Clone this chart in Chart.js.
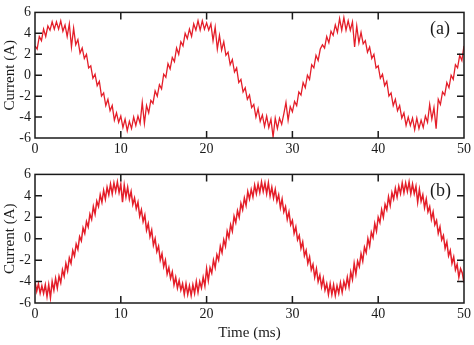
<!DOCTYPE html>
<html>
<head>
<meta charset="utf-8">
<script src="https://cdn.jsdelivr.net/npm/chart.js@4.4.1/dist/chart.umd.min.js"></script>
<style>
  body { margin: 0; background: #fff; }
  canvas { position: absolute; left: 0; }
</style>
</head>
<body>
<canvas id="chartA" width="474" height="162" style="top:0"></canvas>
<canvas id="chartB" width="474" height="183" style="top:162px"></canvas>
<script>
// sample spacing in ms for each trace
const stepA = 0.25;
const stepB = 0.2;

// current readings (A), panel (a)
const currentA = [
  2.8, 2.5, 3.7, 3.3, 4.4, 3.7, 4.7, 4.3, 5.1, 4.4,
  5.1, 4.4, 5.2, 4.2, 4.8, 3.7, 4.9, 2.7, 4.5, 2.9,
  3.4, 2.1, 2.6, 1.6, 2.0, 0.7, 0.9, -0.3, 0.1, -1.0,
  -0.6, -2.0, -1.7, -2.9, -2.3, -3.4, -2.9, -4.3, -3.6, -4.5,
  -3.9, -5.0, -4.2, -5.3, -4.4, -5.1, -4.0, -4.8, -3.9, -4.6,
  -2.6, -4.6, -2.9, -3.6, -2.4, -2.7, -1.5, -2.0, -0.9, -1.3,
  0.1, -0.2, 1.1, 0.6, 1.7, 1.3, 2.6,
  2.0, 3.2, 2.8, 4.0, 3.5, 4.4, 3.7, 4.9, 4.3, 5.2,
  4.3, 5.2, 4.4, 5.0, 4.3, 4.9, 3.3, 4.6, 2.5, 3.8,
  2.4, 3.2, 1.9, 2.2, 1.0, 1.5, 0.3, 0.7, -0.7, -0.4,
  -1.6, -1.2, -2.3, -1.9, -3.1, -2.8, -4.0, -3.2, -4.4, -3.8,
  -4.9, -3.9, -5.0, -4.2, -5.9, -4.1, -5.1, -4.1, -4.7, -3.7,
  -2.6, -4.3, -3.0, -3.5, -2.5, -2.9, -1.6, -1.9, -0.7, -1.2,
  0.0, -0.4, 1.0, 0.7, 1.9, 1.4, 2.5,
  2.9, 2.6, 3.7, 3.1, 4.2, 3.8, 4.8, 4.1, 5.4, 4.3,
  5.5, 4.3, 5.2, 4.3, 5.1, 2.7, 4.7, 3.1, 4.1, 3.0,
  3.3, 2.2, 2.7, 1.6, 2.0, 0.7, 0.9, -0.3, 0.1, -1.0,
  -0.6, -2.0, -1.7, -2.9, -2.3, -3.4, -2.9, -4.1, -3.6, -4.8,
  -4.0, -4.8, -4.1, -5.2, -4.1, -5.1, -4.3, -5.0, -3.9, -4.5,
  -2.8, -4.2, -3.1, -5.1, -2.3, -2.8, -1.6, -1.9, -0.7, -1.2,
  0.0, -0.4, 1.0, 0.7, 1.9, 1.4, 2.8
];

// current readings (A), panel (b)
const currentB = [
  -4.0, -4.9, -4.2, -5.1, -4.4, -5.1, -4.3, -5.4, -4.3, -5.5,
  -4.0, -4.8, -3.7, -4.6, -3.5, -4.1, -2.9, -3.5, -2.3, -3.0,
  -1.8, -2.3, -1.1, -1.6, -0.5, -1.0, 0.2, -0.2, 1.0, 0.5,
  1.6, 1.1, 2.3, 1.8, 3.0, 2.3, 3.5, 3.0, 4.1, 3.4,
  4.5, 3.7, 4.8, 4.1, 5.1, 4.2, 5.2, 4.4, 5.3, 4.3,
  5.1, 3.4, 5.0, 3.9, 4.8, 3.7, 4.4, 3.2, 3.8, 2.8,
  3.4, 2.1, 2.7, 1.6, 2.2, 0.8, 1.4, 0.2, 0.8, -0.6,
  0.0, -1.2, -0.7, -2.0, -1.4, -2.6, -2.0, -3.3, -2.7, -3.7,
  -3.1, -4.3, -3.6, -4.6, -3.9,
  -4.8, -4.2, -5.2, -4.2, -5.2, -4.4, -5.3, -4.3, -5.1, -4.0,
  -5.0, -4.0, -4.6, -3.6, -4.4, -2.8, -3.9, -2.7, -3.2, -2.0,
  -2.7, -1.5, -2.0, -0.7, -1.3, -0.1, -0.7, 0.7, 0.1, 1.3,
  0.7, 2.1, 1.5, 2.6, 2.0, 3.3, 2.7, 3.8, 3.1, 4.4,
  3.7, 4.6, 3.9, 5.0, 4.2, 5.1, 4.3, 5.3, 4.4, 5.2,
  4.2, 5.2, 4.0, 4.8, 3.8, 4.6, 3.5, 4.1, 2.9, 3.7,
  2.5, 3.0, 1.8, 2.5, 1.3, 1.7, 0.5, 1.1, -0.1, 0.3,
  -0.9, -0.3, -1.6, -1.1, -2.3, -1.7, -2.9, -2.4, -3.6, -2.8,
  -4.0, -3.4, -4.5, -3.7, -4.8,
  -4.2, -5.2, -4.2, -5.2, -4.3, -5.3, -4.4, -5.1, -4.1, -5.0,
  -4.0, -4.6, -3.6, -4.5, -3.1, -3.8, -2.3, -3.3, -2.1, -2.6,
  -1.4, -2.1, -0.8, -1.3, 0.0, -0.7, 0.6, 0.1, 1.4, 0.7,
  2.0, 1.5, 2.7, 2.0, 3.2, 2.7, 3.9, 3.1, 4.3, 3.7,
  4.7, 3.9, 4.9, 4.2, 5.2, 4.3, 5.2, 4.4, 5.3, 4.2,
  5.1, 4.2, 4.9, 3.4, 4.6, 3.5, 4.1, 2.9, 3.7, 2.5,
  3.0, 1.8, 2.5, 1.3, 1.7, 0.5, 1.1, -0.1, 0.3, -0.9,
  -0.3, -1.6, -1.1, -2.3, -1.7, -2.9, -2.4, -3.6, -2.8, -3.2,
  -4.1
];

Chart.defaults.font.family = '"Liberation Serif", "Times New Roman", serif';
Chart.defaults.font.size = 14;
Chart.defaults.color = '#1a1a1a';

// box round the plot with inward ticks on all four sides, plus panel tag
const frameTicks = {
  id: 'frameTicks',
  afterDatasetsDraw(chart, args, opts) {
    const { ctx, chartArea: a, scales: { x, y } } = chart;
    const len = 7;
    ctx.save();
    ctx.strokeStyle = '#1a1a1a';
    ctx.lineWidth = 1.5;
    ctx.strokeRect(a.left, a.top, a.right - a.left, a.bottom - a.top);
    ctx.beginPath();
    x.ticks.forEach(t => {
      const px = x.getPixelForValue(t.value);
      if (px <= a.left + 1 || px >= a.right - 1) return;
      ctx.moveTo(px, a.top); ctx.lineTo(px, a.top + len);
      ctx.moveTo(px, a.bottom); ctx.lineTo(px, a.bottom - len);
    });
    y.ticks.forEach(t => {
      const py = y.getPixelForValue(t.value);
      if (py <= a.top + 1 || py >= a.bottom - 1) return;
      ctx.moveTo(a.left, py); ctx.lineTo(a.left + len, py);
      ctx.moveTo(a.right, py); ctx.lineTo(a.right - len, py);
    });
    ctx.stroke();
    ctx.fillStyle = '#1a1a1a';
    ctx.font = '18px "Liberation Serif", serif';
    ctx.textBaseline = 'alphabetic';
    ctx.fillText(opts.tag, a.right - 34, a.top + 22);
    ctx.restore();
  }
};

function makePanel(id, values, step, tag, padTop, xHeight, xTitle, lineW) {
  new Chart(document.getElementById(id), {
    type: 'line',
    data: {
      datasets: [{
        data: values.map((v, i) => ({ x: i * step, y: v })),
        borderColor: '#e41e29',
        borderWidth: lineW,
        pointRadius: 0,
        tension: 0
      }]
    },
    options: {
      responsive: false,
      animation: false,
      layout: { padding: { top: padTop, right: 8, left: 0, bottom: 0 } },
      plugins: {
        legend: { display: false },
        tooltip: { enabled: false },
        frameTicks: { tag: tag }
      },
      scales: {
        x: {
          type: 'linear',
          min: 0, max: 50,
          ticks: { stepSize: 10, padding: 3, maxRotation: 0 },
          grid: { display: false, drawTicks: false },
          border: { display: false },
          title: xTitle
            ? { display: true, text: xTitle, font: { size: 15 }, padding: { top: 0, bottom: 3 } }
            : { display: false },
          afterFit(scale) { scale.height = xHeight; }
        },
        y: {
          min: -6, max: 6,
          ticks: { stepSize: 2, padding: 4 },
          grid: { display: false, drawTicks: false },
          border: { display: false },
          title: { display: true, text: 'Current (A)', font: { size: 15 }, padding: { top: 1, bottom: 0 } },
          afterFit(scale) { scale.width = 35; }
        }
      }
    },
    plugins: [frameTicks]
  });
}

makePanel('chartA', currentA, stepA, '(a)', 4, 24, null, 1.3);
makePanel('chartB', currentB, stepB, '(b)', 10, 42, 'Time (ms)', 1.5);
</script>
</body>
</html>
